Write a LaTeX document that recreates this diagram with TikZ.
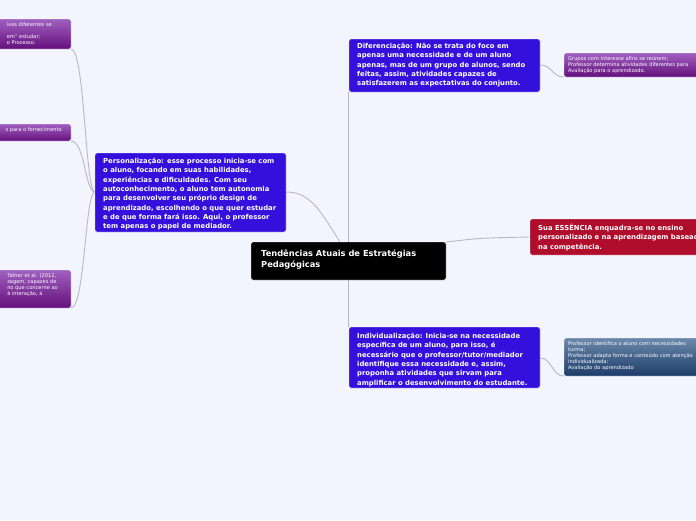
\documentclass[tikz,border=0pt]{standalone}
\usepackage{fontspec}
\setmainfont{DejaVu Sans}
\definecolor{bg}{HTML}{F3F5FE}
\definecolor{pblue}{HTML}{3410DC}
\definecolor{pred}{HTML}{B00C2C}
\definecolor{purT}{HTML}{A060C0}
\definecolor{purB}{HTML}{64107C}
\definecolor{gbT}{HTML}{6C88AC}
\definecolor{gbB}{HTML}{1C3C68}
\definecolor{conn}{HTML}{B8B8C0}
\tikzset{
 main/.style={text=white,font=\bfseries\fontsize{6.85}{9.3}\selectfont,align=left,anchor=north west,inner sep=0pt},
 sub/.style={text=white,font=\fontsize{5.1}{6.2}\selectfont,align=left,anchor=north west,inner sep=0pt},
 lnk/.style={draw=conn,line width=0.9pt}
}
\begin{document}
\begin{tikzpicture}[x=1pt,y=-1pt]
\fill[bg] (0,0) rectangle (696,520);
\useasboundingbox (0,0) rectangle (696,520);
\clip (0,0) rectangle (696,520);
% connectors
\draw[lnk] (348,92) -- (348,327);
\draw[lnk] (340,242) .. controls (320,210) and (310,192) .. (286,192);
\draw[lnk] (446,242) .. controls (480,238) .. (530,237);
\draw[lnk] (540,65) .. controls (552,65) and (552,77) .. (564,77);
\draw[lnk] (540,358) .. controls (552,358) and (552,376) .. (564,376);
\draw[lnk] (95,192) .. controls (85,192) and (85,49) .. (71,49);
\draw[lnk] (95,192) .. controls (85,192) and (85,141) .. (71,141);
\draw[lnk] (95,192) .. controls (85,192) and (85,308) .. (71,308);
% boxes
\shade[top color=purT,bottom color=purB,rounded corners=2pt,draw=white] (-20,19) rectangle (71,49);
\node[sub,anchor=north east] (l1) at (52,22) {ivos diferentes se\\[6pt] em" estudar;\\o Processo.};
\shade[top color=purT,bottom color=purB,rounded corners=2pt,draw=white] (-20,124) rectangle (71,141);
\node[sub,anchor=north east] (l2) at (62,127) {s para o fornecimento};
\shade[top color=purT,bottom color=purB,rounded corners=2pt,draw=white] (-20,270) rectangle (71,308);
\node[sub,anchor=north east] (l3) at (58,273) {Tafner et al. (2012,\\zagem, capazes de\\no que concerne ao\\à interação, à};
\fill[pblue,draw=white,rounded corners=2pt] (95,153) rectangle (286,232);
\node[main] (pers) at (103,158) {Personalização: esse processo inicia-se com\\o aluno, focando em suas habilidades,\\experiências e dificuldades. Com seu\\autoconhecimento, o aluno tem autonomia\\para desenvolver seu próprio design de\\aprendizado, escolhendo o que quer estudar\\e de que forma fará isso. Aqui, o professor\\tem apenas o papel de mediador.};
\fill[black,draw=white,rounded corners=2pt] (251,242) rectangle (446,280);
\node[main,font=\bfseries\fontsize{8.3}{11}\selectfont] (c) at (261,250) {Tendências Atuais de Estratégias\\Pedagógicas};
\fill[pblue,draw=white,rounded corners=2pt] (349,39) rectangle (540,92);
\node[main] (dif) at (357,43) {Diferenciação: Não se trata do foco em\\apenas uma necessidade e de um aluno\\apenas, mas de um grupo de alunos, sendo\\feitas, assim, atividades capazes de\\satisfazerem as expectativas do conjunto.};
\shade[top color=purT,bottom color=purB,rounded corners=2pt,draw=white] (564,53) rectangle (720,77);
\node[sub] (g) at (568,56) {Grupos com interesse afins se reúnem;\\Professor determina atividades diferentes para\\Avaliação para o aprendizado.};
\fill[pred,draw=white,rounded corners=2pt] (530,219) rectangle (720,255);
\node[main] (ess) at (538,224) {Sua ESSÊNCIA enquadra-se no ensino\\personalizado e na aprendizagem baseada\\na competência.};
\fill[pblue,draw=white,rounded corners=2pt] (349,327) rectangle (540,388);
\node[main] (ind) at (357,333) {Individualização: Inicia-se na necessidade\\específica de um aluno, para isso, é\\necessário que o professor/tutor/mediador\\identifique essa necessidade e, assim,\\proponha atividades que sirvam para\\amplificar o desenvolvimento do estudante.};
\shade[top color=gbT,bottom color=gbB,rounded corners=2pt,draw=white] (564,338) rectangle (720,376);
\node[sub] (p) at (568,341) {Professor identifica o aluno com necessidades\\turma;\\Professor adapta forma e conteúdo com atenção\\individualizada;\\Avaliação do aprendizado};
\end{tikzpicture}
\end{document}
